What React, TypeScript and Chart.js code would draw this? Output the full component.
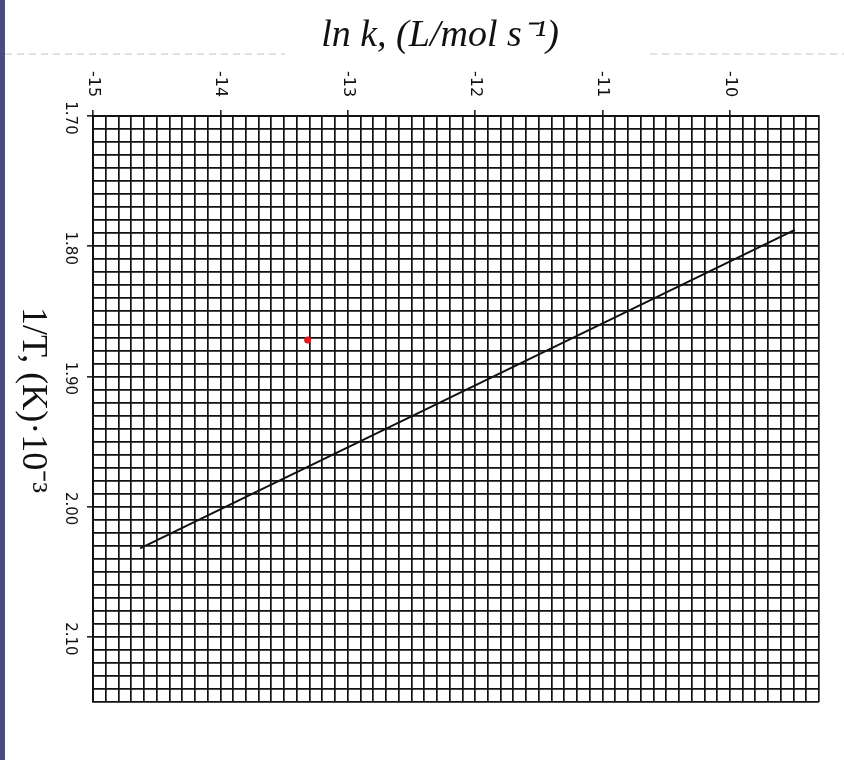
import React, { useEffect, useRef } from "react";
import { Chart, registerables } from "chart.js";

Chart.register(...registerables);

// Axis ranges and tick labels
const xRange = [-15, -9.3];
const yRange = [1.7, 2.15];
const xTickValues = [-15, -14, -13, -12, -11, -10];
const xTickLabels = ["-15", "-14", "-13", "-12", "-11", "-10"];
const yTickValues = [1.7, 1.8, 1.9, 2.0, 2.1];
const yTickLabels = ["1.70", "1.80", "1.90", "2.00", "2.10"];

// Fitted line (ln k vs 1/T)
const lineX = [-14.63, -9.49];
const lineY = [2.032, 1.7875];

// Single red point
const redX = [-13.315];
const redY = [1.872];

const xTitle = "ln k, (L/mol s⁻¹)";
const yTitle = "1/T, (K)·10⁻³";

const isMajorX = (v: number) => Math.abs(v - Math.round(v)) < 1e-6;
const isMajorY = (v: number) => Math.abs(v * 10 - Math.round(v * 10)) < 1e-6;

const overlay = {
  id: "overlay",
  afterDraw(chart: any) {
    const ctx = chart.ctx as CanvasRenderingContext2D;
    const xs = chart.scales.x;
    const ys = chart.scales.y;
    ctx.save();
    // left scan edge
    ctx.fillStyle = "#4b4b7c";
    ctx.fillRect(0, 0, 5, chart.height);
    // faint dashed scan line
    ctx.strokeStyle = "#c4c4c4";
    ctx.lineWidth = 1;
    ctx.setLineDash([7, 5]);
    ctx.beginPath();
    ctx.moveTo(5, 54);
    ctx.lineTo(285, 54);
    ctx.moveTo(650, 54);
    ctx.lineTo(844, 54);
    ctx.stroke();
    ctx.setLineDash([]);

    ctx.fillStyle = "#111";
    // x tick labels, rotated clockwise
    ctx.font = "16px 'DejaVu Sans'";
    ctx.textAlign = "center";
    ctx.textBaseline = "middle";
    xTickValues.forEach((v, i) => {
      const px = xs.getPixelForValue(v);
      ctx.save();
      ctx.translate(px, 84);
      ctx.rotate(Math.PI / 2);
      ctx.fillText(xTickLabels[i], 0, 0);
      ctx.restore();
    });
    // y tick labels, rotated clockwise
    ctx.font = "15px 'DejaVu Sans'";
    yTickValues.forEach((v, i) => {
      const py = ys.getPixelForValue(v);
      ctx.save();
      ctx.translate(70, py + 2);
      ctx.rotate(Math.PI / 2);
      ctx.fillText(yTickLabels[i], 0, 0);
      ctx.restore();
    });
    // titles
    ctx.font = "italic 38px 'Liberation Serif'";
    ctx.fillText(xTitle, 440, 36);
    ctx.save();
    ctx.translate(32, 400);
    ctx.rotate(Math.PI / 2);
    ctx.font = "36px 'Liberation Serif'";
    ctx.fillText(yTitle, 0, 0);
    ctx.restore();
    ctx.restore();
  },
};

export default function App() {
  const ref = useRef<HTMLCanvasElement | null>(null);
  useEffect(() => {
    if (!ref.current) return;
    const chart = new Chart(ref.current, {
      type: "scatter",
      data: {
        datasets: [
          {
            label: "fit",
            data: lineX.map((x, i) => ({ x, y: lineY[i] })),
            showLine: true,
            borderColor: "#111",
            borderWidth: 2,
            pointRadius: 0,
          },
          {
            label: "point",
            data: redX.map((x, i) => ({ x, y: redY[i] })),
            backgroundColor: "#e8141c",
            borderWidth: 0,
            pointRadius: 3.5,
          },
        ],
      },
      options: {
        responsive: false,
        animation: false,
        layout: { padding: { left: 87, top: 110, right: 25, bottom: 58 } },
        plugins: { legend: { display: false }, tooltip: { enabled: false } },
        scales: {
          x: {
            type: "linear",
            position: "top",
            min: xRange[0],
            max: xRange[1],
            ticks: { stepSize: 0.1, display: false, autoSkip: false },
            grid: {
              color: "#111",
              lineWidth: 1.7,
              tickLength: 6,
              tickColor: (c: any) => (c.tick && isMajorX(c.tick.value) ? "#111" : "rgba(0,0,0,0)"),
              tickWidth: 1.5,
            },
            border: { display: true, color: "#111", width: 2 },
          },
          y: {
            type: "linear",
            reverse: true,
            min: yRange[0],
            max: yRange[1],
            ticks: { stepSize: 0.01, display: false, autoSkip: false },
            grid: {
              color: "#111",
              lineWidth: 1.7,
              tickLength: 6,
              tickColor: (c: any) => (c.tick && isMajorY(c.tick.value) ? "#111" : "rgba(0,0,0,0)"),
              tickWidth: 1.5,
            },
            border: { display: true, color: "#111", width: 2 },
          },
        },
      },
      plugins: [overlay],
    });
    return () => chart.destroy();
  }, []);
  return (
    <div style={{ position: "fixed", left: 0, top: 0, width: 844, height: 760, background: "#fff" }}>
      <canvas ref={ref} width={844} height={760} />
    </div>
  );
}
